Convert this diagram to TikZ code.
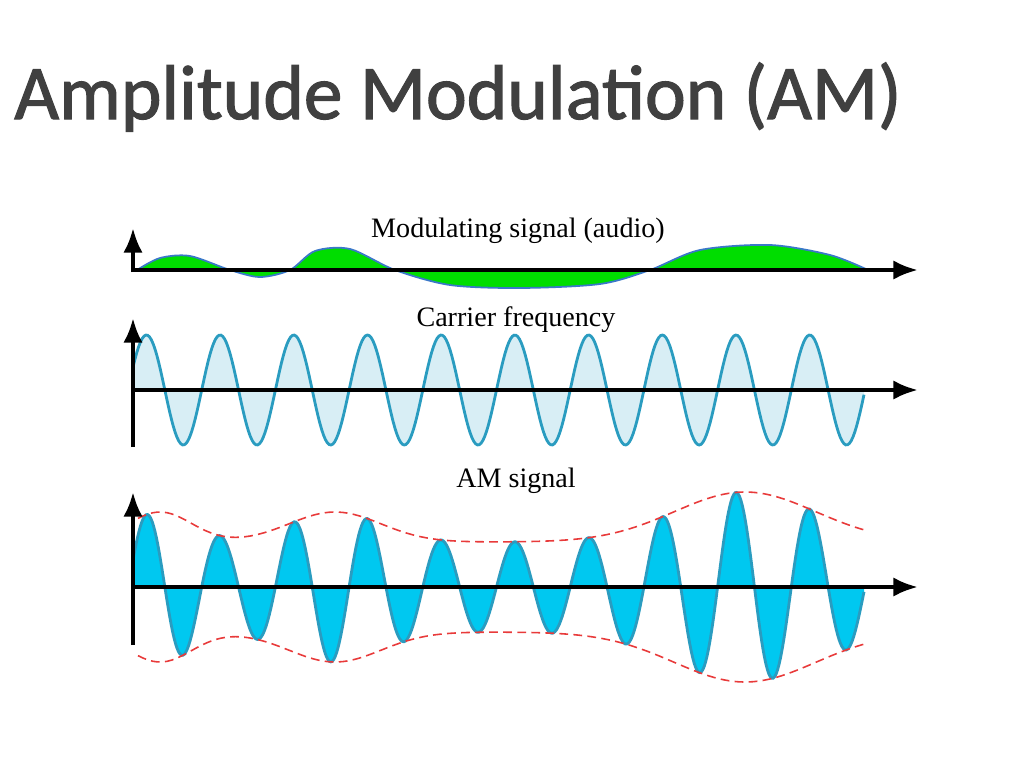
\documentclass[tikz,border=0pt]{standalone}
\usepackage{fontspec}
\setmainfont{Liberation Serif}
\newfontfamily\titlefont{Carlito}
\usetikzlibrary{arrows.meta}
\definecolor{titlegray}{HTML}{404040}
\definecolor{audiogreen}{HTML}{00DD00}
\definecolor{audioblue}{HTML}{3A78C8}
\definecolor{carrierfill}{HTML}{D8EEF5}
\definecolor{wavestroke}{HTML}{2A9CC0}
\definecolor{amfill}{HTML}{00C8F0}
\definecolor{envred}{HTML}{E83A3A}
\tikzset{
  axis/.style={line width=2.4pt, -{Latex[length=14pt,width=11pt]}},
  caption/.style={font=\fontsize{16}{18}\selectfont, inner sep=0pt},
  envelope/.style={envred, line width=0.9pt, dash pattern=on 5pt off 3pt},
  declare function={
    carr(\t)=sin(4.8847*(\t-128));
    env(\t)=45+30*exp(-min(((\t-160)/45)^2,20))+30*exp(-min(((\t-335)/65)^2,20))+50*exp(-min(((\t-745)/100)^2,20));
  }
}
\begin{document}
\begin{tikzpicture}[x=0.02cm,y=-0.02cm]
    \useasboundingbox (0,0) rectangle (1024,768);
    % Title
    \node (title)[anchor=base west, inner sep=0pt, text=titlegray] at (14,119) {\titlefont\fontsize{44}{50}\selectfont\addfontfeature{FakeBold=1.5}Amplitude Modulation (AM)};

    % Modulating signal
    \fill[audiogreen, draw=audioblue, line width=1pt] plot[smooth] coordinates {(137,270) (160,258) (190,256) (230,270) (260,277) (290,270) (315,251) (350,249) (395,270) (450,285) (520,288) (600,284) (650,270) (700,250) (770,245) (830,255) (868,270)} -- cycle;
    \draw[axis] (133,270) -- (918,270);
    \draw[axis] (133,272) -- (133,228);
    \node (audio)[caption] at (518,231) {Modulating signal (audio)};

    % Carrier
    \fill[carrierfill] plot[domain=133:864, samples=400] (\x,{390-55*carr(\x)}) -- (864,390) -- (133,390) -- cycle;
    \draw[wavestroke, line width=1.6pt] plot[domain=133:864, samples=400] (\x,{390-55*carr(\x)});
    \draw[axis] (133,390) -- (918,390);
    \draw[axis] (133,447) -- (133,318);
    \node (carrier)[caption] at (516,320) {Carrier frequency};

    % AM signal
    \fill[amfill] plot[domain=133:864, samples=500] (\x,{587-env(\x)*carr(\x)}) -- (864,587) -- (133,587) -- cycle;
    \draw[wavestroke, line width=1.6pt] plot[domain=133:864, samples=500] (\x,{587-env(\x)*carr(\x)});
    \foreach \s in {1,-1} {
        \draw[envelope] plot[domain=138:866, samples=150] (\x,{587-\s*env(\x)});
    }
    \draw[axis] (133,587) -- (918,587);
    \draw[axis] (133,645) -- (133,492);
    \node (am)[caption] at (516,481) {AM signal};
\end{tikzpicture}
\end{document}
